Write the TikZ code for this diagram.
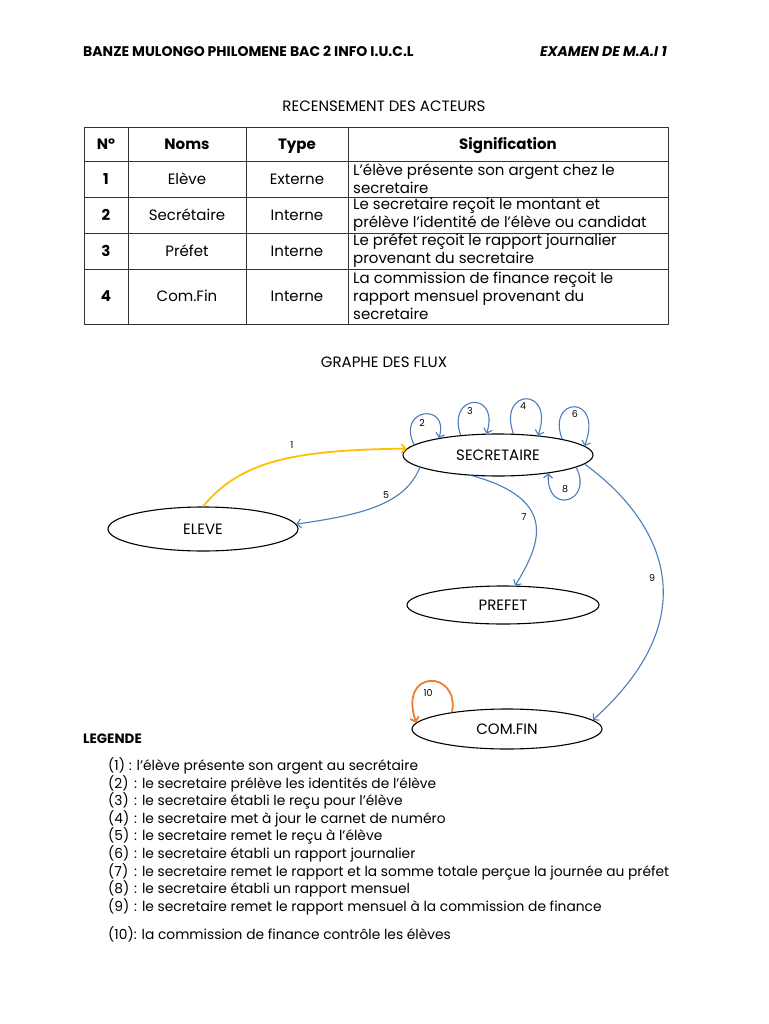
\documentclass[tikz,border=0pt]{standalone}
\usepackage{fontspec}
\setmainfont{Poppins}
\usetikzlibrary{arrows.meta,shapes.geometric}
\definecolor{flblue}{HTML}{4A7EBB}
\definecolor{flgold}{HTML}{FFC000}
\definecolor{florange}{HTML}{ED7D31}
\tikzset{acteur/.style={draw,line width=1.1pt,ellipse,inner sep=0pt,font=\fontsize{15}{17}\selectfont},
  flux/.style={flblue,line width=1.1pt,-{Straight Barb[length=4pt,width=9pt]}},
  num/.style={font=\fontsize{9.5}{11}\selectfont},
  cell/.style={font=\fontsize{15}{18}\selectfont},
  cellc/.style={cell,anchor=base,yshift=-5.3pt},
  legtxt/.style={anchor=base west,inner sep=0pt,font=\fontsize{13.8}{16}\selectfont}}

\begin{document}
\begin{tikzpicture}[x=1pt,y=-1pt,line join=round]
\path[fill=white] (0,0) rectangle (768,1024);
% --- en-tete
\node[anchor=base west,inner sep=0pt,font=\bfseries\fontsize{14}{16}\selectfont] (auteur) at (83,57) {BANZE MULONGO PHILOMENE BAC 2 INFO I.U.C.L};
\node[anchor=base east,inner sep=0pt,font=\bfseries\itshape\fontsize{14}{16}\selectfont] (examen) at (667,57) {EXAMEN DE M.A.I 1};
% --- tableau des acteurs
\node[cellc] (titre) at (384,106) {RECENSEMENT DES ACTEURS};
\draw[black!80,line width=0.9pt] (84,127) rectangle (668,324);
\foreach \y in {161,197,233,269} \draw[black!80,line width=0.9pt] (84,\y) -- (668,\y);
\foreach \x in {128,246,348} \draw[black!80,line width=0.9pt] (\x,127) -- (\x,324);
\node[cellc,font=\bfseries\fontsize{15}{18}\selectfont] (hnum) at (106,144) {N°};
\node[cellc,font=\bfseries\fontsize{15}{18}\selectfont] (hnom) at (187,144) {Noms};
\node[cellc,font=\bfseries\fontsize{15}{18}\selectfont] (htyp) at (297,144) {Type};
\node[cellc,font=\bfseries\fontsize{15}{18}\selectfont] (hsig) at (508,144) {Signification};
\foreach \i/\y/\nom/\typ in {1/179/Elève/Externe,2/215/Secrétaire/Interne,3/251/Préfet/Interne,4/296/Com.Fin/Interne}{
  \node[cellc,font=\bfseries\fontsize{15}{18}\selectfont] (num\i) at (106,\y) {\i};
  \node[cellc] (nom\i) at (187,\y) {\nom};
  \node[cellc] (typ\i) at (297,\y) {\typ};
}
\node[cell,anchor=west,align=left,inner xsep=0pt] (sig1) at (353,179) {L’élève présente son argent chez le\\secretaire};
\node[cell,anchor=west,align=left,inner xsep=0pt] (sig2) at (353,215) {Le secretaire reçoit le montant et\\prélève l’identité de l’élève ou candidat};
\node[cell,anchor=west,align=left,inner xsep=0pt] (sig3) at (353,251) {Le préfet reçoit le rapport journalier\\provenant du secretaire};
\node[cell,anchor=west,align=left,inner xsep=0pt] (sig4) at (353,296) {La commission de finance reçoit le\\rapport mensuel provenant du\\secretaire};
% --- graphe des flux
\node[cellc] (graphe) at (384,362) {GRAPHE DES FLUX};
\node[acteur,minimum width=190,minimum height=42] (sec) at (498,455) {SECRETAIRE};
\node[acteur,minimum width=190,minimum height=44] (elv) at (203,529) {ELEVE};
\node[acteur,minimum width=192,minimum height=38] (pref) at (503,605) {PREFET};
\node[acteur,minimum width=190,minimum height=40] (cf) at (507,729) {COM.FIN};
\draw[flux,flgold,line width=1.8pt] (elv.north) .. controls (240,462) and (290,450) .. (sec.176);
\draw[flux] (sec.189) .. controls (405,505) and (360,515) .. (elv.3);
\draw[flux] (sec.219) .. controls (560,500) and (540,545) .. (pref.58);
\draw[flux] (sec.-6) .. controls (655,515) and (715,610) .. (cf.6);
\draw[flux] (sec.173) .. controls (396,408) and (450,402) .. (sec.164);
\draw[flux] (sec.152) .. controls (446,394) and (500,390) .. (sec.118);
\draw[flux] (sec.54) .. controls (497,388) and (555,386) .. (sec.26);
\draw[flux] (sec.14) .. controls (546,396) and (604,394) .. (sec.6);
\draw[flux] (sec.-9) .. controls (594,502) and (546,516) .. (sec.-20);
\draw[flux,florange,line width=1.8pt] (cf.163) .. controls (460,670) and (398,668) .. (cf.176);
\node[num] (e1) at (292,445) {1};
\node[num] (e2) at (422,423) {2};
\node[num] (e3) at (470,411) {3};
\node[num] (e4) at (523,406) {4};
\node[num] (e5) at (386,495) {5};
\node[num] (e6) at (575,414) {6};
\node[num] (e7) at (524,517) {7};
\node[num] (e8) at (565,489) {8};
\node[num] (e9) at (652,578) {9};
\node[num] (e10) at (428,693) {10};
% --- legende
\node[anchor=base west,inner sep=0pt,font=\bfseries\fontsize{13.5}{15}\selectfont] (legende) at (83,743) {LEGENDE};
\node[legtxt] (k1) at (108,770) {(1)~: l’élève présente son argent au secrétaire};
\foreach \k/\y/\txt in {2/788/le secretaire prélève les identités de l’élève,
  3/805/le secretaire établi le reçu pour l’élève,
  4/823/le secretaire met à jour le carnet de numéro,
  5/840/le secretaire remet le reçu à l’élève,
  6/858/le secretaire établi un rapport journalier,
  7/876/le secretaire remet le rapport et la somme totale perçue la journée au préfet,
  8/893/le secretaire établi un rapport mensuel,
  9/911/le secretaire remet le rapport mensuel à la commission de finance}{
  \node[legtxt] (k\k) at (108,\y) {(\k)};
  \node[legtxt] (t\k) at (134,\y) {: \txt};
}
\node[legtxt] (k10) at (108,939) {(10): la commission de finance contrôle les élèves};
\end{tikzpicture}
\end{document}
